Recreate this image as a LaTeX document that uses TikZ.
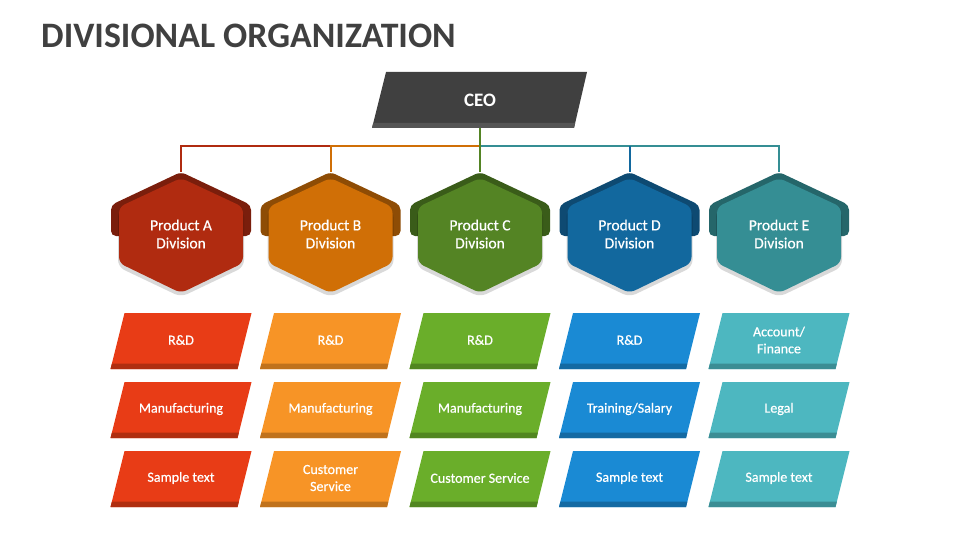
\documentclass[tikz,border=0pt]{standalone}
\usepackage{fontspec}
\setmainfont{Carlito}
\newfontfamily\mymedfont{Carlito}[FakeBold=0.6]
\definecolor{titlegray}{HTML}{404040}
\definecolor{ceogray}{HTML}{404040}
\definecolor{ceoband}{HTML}{555555}
\definecolor{hexA}{HTML}{B02B10}\definecolor{backA}{HTML}{7A1E0C}\definecolor{boxA}{HTML}{E83C16}\definecolor{bandA}{HTML}{B02E10}
\definecolor{hexB}{HTML}{D06F06}\definecolor{backB}{HTML}{8E4C05}\definecolor{boxB}{HTML}{F79426}\definecolor{bandB}{HTML}{C0721C}
\definecolor{hexC}{HTML}{548424}\definecolor{backC}{HTML}{3A5C19}\definecolor{boxC}{HTML}{6AAE2A}\definecolor{bandC}{HTML}{518620}
\definecolor{hexD}{HTML}{12689E}\definecolor{backD}{HTML}{0E4A72}\definecolor{boxD}{HTML}{1A8AD4}\definecolor{bandD}{HTML}{146AA3}
\definecolor{hexE}{HTML}{358E94}\definecolor{backE}{HTML}{25666A}\definecolor{boxE}{HTML}{4DB7C0}\definecolor{bandE}{HTML}{3B8D94}
\tikzset{
  hextext/.style={text=white, align=center, font=\mymedfont\fontsize{15.5}{18}\selectfont, inner sep=0pt},
  boxtext/.style={text=white, align=center, font=\mymedfont\fontsize{14}{17}\selectfont, inner sep=0pt},
  ceotext/.style={text=white, font=\fontsize{19}{22}\selectfont\bfseries, inner sep=0pt},
  conn/.style={line width=2pt},
}
\newcommand\myhexdiv[5]{%
  \fill[#4, rounded corners=5pt] ({#2-70},236) -- ({#2-70},205) -- ({#2},172) -- ({#2+70},205) -- ({#2+70},236) -- cycle;
  \fill[black, opacity=.15, rounded corners=7pt] ({#2},181) -- ({#2+63},210) -- ({#2+63},267) -- ({#2},297) -- ({#2-63},267) -- ({#2-63},210) -- cycle;
  \fill[#3, rounded corners=6pt] ({#2},178) -- ({#2+62},207) -- ({#2+62},263) -- ({#2},293) -- ({#2-62},263) -- ({#2-62},207) -- cycle;
  \node[hextext] (#1) at ({#2},234) {#5};
}
\newcommand\mydeptbox[6]{%
  \fill[#4] ({#2-56.5},#3) -- ({#2+70.5},#3) -- ({#2+56.5},{#3+56}) -- ({#2-70.5},{#3+56}) -- cycle;
  \fill[#5] ({#2-69.1},{#3+50.5}) -- ({#2+57.9},{#3+50.5}) -- ({#2+56.5},{#3+56}) -- ({#2-70.5},{#3+56}) -- cycle;
  \node[boxtext] (#1) at ({#2},{#3+27}) {#6};
}
\begin{document}
\begin{tikzpicture}[x=1pt, y=-1pt]
\useasboundingbox (0,0) rectangle (960,540);
\fill[white] (0,0) rectangle (960,540);
\node[anchor=base west, inner sep=0pt, text=titlegray, font=\fontsize{35.8}{42}\selectfont\bfseries] (title) at (41,47.5) {DIVISIONAL ORGANIZATION};
\fill[ceogray] (386,72) -- (587,72) -- (574,128) -- (372,128) -- cycle;
\fill[ceoband] (373.2,123) -- (575.2,123) -- (574,128) -- (372,128) -- cycle;
\node[ceotext] (ceo) at (480,100) {CEO};
\coordinate (ceob) at (480,128);
\coordinate (bus) at (480,146);
\coordinate (Atop) at (181,172);
\coordinate (Btop) at (330.5,172);
\coordinate (Ctop) at (480,172);
\coordinate (Dtop) at (629.5,172);
\coordinate (Etop) at (779,172);
\draw[conn, hexE] (Etop) |- (bus);
\draw[conn, hexD] (Dtop) -- (Dtop |- bus);
\draw[conn, hexA] (Atop) |- (bus -| Btop);
\draw[conn, hexB] (Btop) |- (bus);
\draw[conn, hexC] (ceob) -- (Ctop);
\myhexdiv{A}{181}{hexA}{backA}{Product A\\Division}
\myhexdiv{B}{330.5}{hexB}{backB}{Product B\\Division}
\myhexdiv{C}{480}{hexC}{backC}{Product C\\Division}
\myhexdiv{D}{629.5}{hexD}{backD}{Product D\\Division}
\myhexdiv{E}{779}{hexE}{backE}{Product E\\Division}
\mydeptbox{A1}{181}{313}{boxA}{bandA}{R\&D}
\mydeptbox{A2}{181}{382}{boxA}{bandA}{Manufacturing}
\mydeptbox{A3}{181}{451}{boxA}{bandA}{Sample text}
\mydeptbox{B1}{330.5}{313}{boxB}{bandB}{R\&D}
\mydeptbox{B2}{330.5}{382}{boxB}{bandB}{Manufacturing}
\mydeptbox{B3}{330.5}{451}{boxB}{bandB}{Customer\\Service}
\mydeptbox{C1}{480}{313}{boxC}{bandC}{R\&D}
\mydeptbox{C2}{480}{382}{boxC}{bandC}{Manufacturing}
\mydeptbox{C3}{480}{451}{boxC}{bandC}{Customer Service}
\mydeptbox{D1}{629.5}{313}{boxD}{bandD}{R\&D}
\mydeptbox{D2}{629.5}{382}{boxD}{bandD}{Training/Salary}
\mydeptbox{D3}{629.5}{451}{boxD}{bandD}{Sample text}
\mydeptbox{E1}{779}{313}{boxE}{bandE}{Account/\\Finance}
\mydeptbox{E2}{779}{382}{boxE}{bandE}{Legal}
\mydeptbox{E3}{779}{451}{boxE}{bandE}{Sample text}
\end{tikzpicture}
\end{document}
